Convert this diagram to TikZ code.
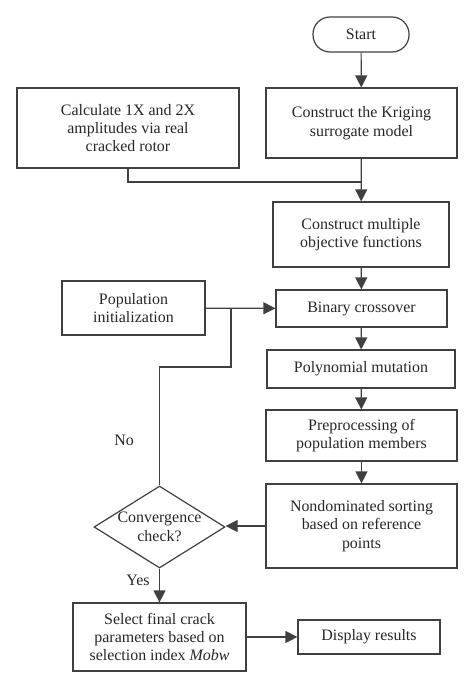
\documentclass[tikz,border=0pt]{standalone}
\usepackage{fontspec}
\setmainfont{Liberation Serif}
\usetikzlibrary{arrows.meta,shapes.geometric}
\begin{document}
\begin{tikzpicture}[x=1bp,y=-1bp,
  line width=1.2bp,
  every node/.style={font=\fontsize{16}{18.5}\selectfont, text=black!85},
  box/.style={draw=black!75, align=center, inner sep=0},
  link/.style={draw=black!75, line width=1.2bp},
  arr/.style={link, -{Triangle[length=12bp,width=12bp]}}]
\useasboundingbox (0,0) rectangle (474,688);
\node[box, rounded corners=17bp, minimum width=96bp, minimum height=35bp] (start) at (361,34.5) {Start};
\node[box, minimum width=191bp, minimum height=70bp] (krig) at (361.5,123) {Construct the Kriging\\surrogate model};
\node[box, minimum width=222bp, minimum height=80bp] (calc) at (128,128) {Calculate 1X and 2X\\amplitudes via real\\cracked rotor};
\node[box, minimum width=176bp, minimum height=65bp] (obj) at (361,234.5) {Construct multiple\\objective functions};
\node[box, minimum width=171bp, minimum height=37bp] (bin) at (361.5,308.5) {Binary crossover};
\node[box, minimum width=143bp, minimum height=54bp] (pop) at (133.5,308) {Population\\initialization};
\node[box, minimum width=188bp, minimum height=38bp] (poly) at (361,369) {Polynomial mutation};
\node[box, minimum width=191bp, minimum height=51bp] (pre) at (361.5,435.5) {Preprocessing of\\population members};
\node[box, minimum width=191bp, minimum height=84bp] (nds) at (361.5,526) {Nondominated sorting\\based on reference\\points};
\node[box, diamond, aspect=1.6, minimum width=131bp, minimum height=82bp] (conv) at (159.5,527) {Convergence\\check?};
\node[box, minimum width=173bp, minimum height=68bp] (sel) at (159.5,637) {Select final crack\\parameters based on\\selection index \textit{Mobw}};
\node[box, minimum width=142bp, minimum height=34bp] (disp) at (369,637) {Display results};
\coordinate (j1) at (361,182);
\coordinate (j2) at (231,308);
\coordinate (j3) at (231,367);
\coordinate (j4) at (159.5,367);
\node (no) at (124,440) {No};
\node (yes) at (138,580) {Yes};
\draw[arr] (start) -- (krig);
\draw[arr] (krig) -- (obj);
\draw[link] (calc.south) |- (j1);
\draw[arr] (obj) -- (bin);
\draw[arr] (pop) -- (bin);
\draw[link] (conv.north) -- (j4) -- (j3) -- (j2);
\draw[arr] (bin) -- (poly);
\draw[arr] (poly) -- (pre);
\draw[arr] (pre) -- (nds);
\draw[arr] (nds.west) -- (nds.west -| conv.east);
\draw[arr] (conv) -- (sel);
\draw[arr] (sel.east) -- (sel.east -| disp.west);
\end{tikzpicture}
\end{document}
